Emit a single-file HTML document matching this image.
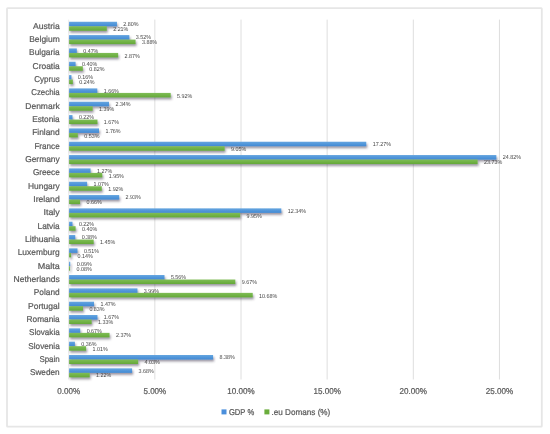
<!DOCTYPE html>
<html lang="en"><head><meta charset="utf-8"><title>GDP % vs .eu Domains (%)</title>
<style>html,body{margin:0;padding:0;background:#fff}body{width:550px;height:434px;overflow:hidden}svg{display:block}text{font-family:"Liberation Sans",sans-serif;text-rendering:geometricPrecision;stroke-width:.22px;paint-order:stroke}.t{stroke:#595959}.d{stroke:none}</style>
</head><body>
<svg width="550" height="434" viewBox="0 0 550 434">
<defs>
<linearGradient id="gb" x1="0" y1="0" x2="0" y2="1"><stop offset="0" stop-color="#64a5e0"/><stop offset="1" stop-color="#4189d4"/></linearGradient>
<linearGradient id="gg" x1="0" y1="0" x2="0" y2="1"><stop offset="0" stop-color="#7fbd57"/><stop offset="1" stop-color="#64a838"/></linearGradient>
<filter id="sh" filterUnits="userSpaceOnUse" x="60" y="10" width="480" height="380"><feGaussianBlur in="SourceAlpha" stdDeviation="1.25"/><feOffset dx="0.5" dy="1.5" result="b"/><feFlood flood-color="#3a3048" flood-opacity="0.5"/><feComposite in2="b" operator="in"/><feMerge><feMergeNode/><feMergeNode in="SourceGraphic"/></feMerge></filter>
</defs>
<rect width="550" height="434" fill="#fff"/>
<rect x="7" y="8.05" width="534.8" height="418.55" rx="0.6" fill="#fff" stroke="#e6e6e6" stroke-width="1.8"/>
<line x1="68.70" y1="19.6" x2="68.70" y2="379.5" stroke="#ebebeb" stroke-width="1"/>
<line x1="154.85" y1="19.6" x2="154.85" y2="379.5" stroke="#dedede" stroke-width="1"/>
<line x1="241.00" y1="19.6" x2="241.00" y2="379.5" stroke="#dedede" stroke-width="1"/>
<line x1="327.15" y1="19.6" x2="327.15" y2="379.5" stroke="#dedede" stroke-width="1"/>
<line x1="413.30" y1="19.6" x2="413.30" y2="379.5" stroke="#dedede" stroke-width="1"/>
<line x1="499.45" y1="19.6" x2="499.45" y2="379.5" stroke="#dedede" stroke-width="1"/>
<g>
<rect x="69.10" y="21.76" width="47.84" height="4.5" fill="url(#gb)" filter="url(#sh)"/>
<rect x="69.10" y="26.26" width="37.68" height="4.5" fill="url(#gg)" filter="url(#sh)"/>
<rect x="69.10" y="35.09" width="60.25" height="4.5" fill="url(#gb)" filter="url(#sh)"/>
<rect x="69.10" y="39.59" width="66.45" height="4.5" fill="url(#gg)" filter="url(#sh)"/>
<rect x="69.10" y="48.42" width="7.70" height="4.5" fill="url(#gb)" filter="url(#sh)"/>
<rect x="69.10" y="52.92" width="49.05" height="4.5" fill="url(#gg)" filter="url(#sh)"/>
<rect x="69.10" y="61.75" width="6.49" height="4.5" fill="url(#gb)" filter="url(#sh)"/>
<rect x="69.10" y="66.25" width="13.73" height="4.5" fill="url(#gg)" filter="url(#sh)"/>
<rect x="69.10" y="75.08" width="2.36" height="4.5" fill="url(#gb)" filter="url(#sh)"/>
<rect x="69.10" y="79.58" width="3.74" height="4.5" fill="url(#gg)" filter="url(#sh)"/>
<rect x="69.10" y="88.41" width="28.20" height="4.5" fill="url(#gb)" filter="url(#sh)"/>
<rect x="69.10" y="92.91" width="101.60" height="4.5" fill="url(#gg)" filter="url(#sh)"/>
<rect x="69.10" y="101.74" width="39.92" height="4.5" fill="url(#gb)" filter="url(#sh)"/>
<rect x="69.10" y="106.24" width="23.55" height="4.5" fill="url(#gg)" filter="url(#sh)"/>
<rect x="69.10" y="115.07" width="3.39" height="4.5" fill="url(#gb)" filter="url(#sh)"/>
<rect x="69.10" y="119.57" width="28.37" height="4.5" fill="url(#gg)" filter="url(#sh)"/>
<rect x="69.10" y="128.40" width="29.92" height="4.5" fill="url(#gb)" filter="url(#sh)"/>
<rect x="69.10" y="132.90" width="8.73" height="4.5" fill="url(#gg)" filter="url(#sh)"/>
<rect x="69.10" y="141.73" width="297.16" height="4.5" fill="url(#gb)" filter="url(#sh)"/>
<rect x="69.10" y="146.23" width="155.53" height="4.5" fill="url(#gg)" filter="url(#sh)"/>
<rect x="69.10" y="155.06" width="427.25" height="4.5" fill="url(#gb)" filter="url(#sh)"/>
<rect x="69.10" y="159.56" width="408.47" height="4.5" fill="url(#gg)" filter="url(#sh)"/>
<rect x="69.10" y="168.39" width="21.48" height="4.5" fill="url(#gb)" filter="url(#sh)"/>
<rect x="69.10" y="172.89" width="33.20" height="4.5" fill="url(#gg)" filter="url(#sh)"/>
<rect x="69.10" y="181.72" width="18.04" height="4.5" fill="url(#gb)" filter="url(#sh)"/>
<rect x="69.10" y="186.22" width="32.68" height="4.5" fill="url(#gg)" filter="url(#sh)"/>
<rect x="69.10" y="195.05" width="50.08" height="4.5" fill="url(#gb)" filter="url(#sh)"/>
<rect x="69.10" y="199.55" width="10.97" height="4.5" fill="url(#gg)" filter="url(#sh)"/>
<rect x="69.10" y="208.38" width="212.22" height="4.5" fill="url(#gb)" filter="url(#sh)"/>
<rect x="69.10" y="212.88" width="171.04" height="4.5" fill="url(#gg)" filter="url(#sh)"/>
<rect x="69.10" y="221.71" width="3.39" height="4.5" fill="url(#gb)" filter="url(#sh)"/>
<rect x="69.10" y="226.21" width="6.49" height="4.5" fill="url(#gg)" filter="url(#sh)"/>
<rect x="69.10" y="235.04" width="6.15" height="4.5" fill="url(#gb)" filter="url(#sh)"/>
<rect x="69.10" y="239.54" width="24.58" height="4.5" fill="url(#gg)" filter="url(#sh)"/>
<rect x="69.10" y="248.37" width="8.39" height="4.5" fill="url(#gb)" filter="url(#sh)"/>
<rect x="69.10" y="252.87" width="2.01" height="4.5" fill="url(#gg)" filter="url(#sh)"/>
<rect x="69.10" y="261.70" width="1.15" height="4.5" fill="url(#gb)" filter="url(#sh)"/>
<rect x="69.10" y="266.20" width="0.98" height="4.5" fill="url(#gg)" filter="url(#sh)"/>
<rect x="69.10" y="275.03" width="95.40" height="4.5" fill="url(#gb)" filter="url(#sh)"/>
<rect x="69.10" y="279.53" width="166.21" height="4.5" fill="url(#gg)" filter="url(#sh)"/>
<rect x="69.10" y="288.36" width="68.35" height="4.5" fill="url(#gb)" filter="url(#sh)"/>
<rect x="69.10" y="292.86" width="183.62" height="4.5" fill="url(#gg)" filter="url(#sh)"/>
<rect x="69.10" y="301.69" width="24.93" height="4.5" fill="url(#gb)" filter="url(#sh)"/>
<rect x="69.10" y="306.19" width="13.90" height="4.5" fill="url(#gg)" filter="url(#sh)"/>
<rect x="69.10" y="315.02" width="28.37" height="4.5" fill="url(#gb)" filter="url(#sh)"/>
<rect x="69.10" y="319.52" width="22.52" height="4.5" fill="url(#gg)" filter="url(#sh)"/>
<rect x="69.10" y="328.35" width="11.14" height="4.5" fill="url(#gb)" filter="url(#sh)"/>
<rect x="69.10" y="332.85" width="40.44" height="4.5" fill="url(#gg)" filter="url(#sh)"/>
<rect x="69.10" y="341.68" width="5.80" height="4.5" fill="url(#gb)" filter="url(#sh)"/>
<rect x="69.10" y="346.18" width="17.00" height="4.5" fill="url(#gg)" filter="url(#sh)"/>
<rect x="69.10" y="355.01" width="143.99" height="4.5" fill="url(#gb)" filter="url(#sh)"/>
<rect x="69.10" y="359.51" width="69.04" height="4.5" fill="url(#gg)" filter="url(#sh)"/>
<rect x="69.10" y="368.34" width="63.01" height="4.5" fill="url(#gb)" filter="url(#sh)"/>
<rect x="69.10" y="372.84" width="20.62" height="4.5" fill="url(#gg)" filter="url(#sh)"/>
</g>
<g class="t" font-size="8.5" fill="#595959" text-anchor="end">
<text x="59.7" y="29" textLength="26.7" lengthAdjust="spacingAndGlyphs">Austria</text>
<text x="59.7" y="42" textLength="30.5" lengthAdjust="spacingAndGlyphs">Belgium</text>
<text x="59.7" y="55" textLength="30.6" lengthAdjust="spacingAndGlyphs">Bulgaria</text>
<text x="59.7" y="69" textLength="27.1" lengthAdjust="spacingAndGlyphs">Croatia</text>
<text x="59.7" y="82" textLength="25.4" lengthAdjust="spacingAndGlyphs">Cyprus</text>
<text x="59.7" y="95" textLength="28.5" lengthAdjust="spacingAndGlyphs">Czechia</text>
<text x="59.7" y="109" textLength="34.4" lengthAdjust="spacingAndGlyphs">Denmark</text>
<text x="59.7" y="122" textLength="27.5" lengthAdjust="spacingAndGlyphs">Estonia</text>
<text x="59.7" y="135" textLength="27.5" lengthAdjust="spacingAndGlyphs">Finland</text>
<text x="59.7" y="149" textLength="25.3" lengthAdjust="spacingAndGlyphs">France</text>
<text x="59.7" y="162" textLength="34.5" lengthAdjust="spacingAndGlyphs">Germany</text>
<text x="59.7" y="175" textLength="26.8" lengthAdjust="spacingAndGlyphs">Greece</text>
<text x="59.7" y="189" textLength="31.7" lengthAdjust="spacingAndGlyphs">Hungary</text>
<text x="59.7" y="202" textLength="26.4" lengthAdjust="spacingAndGlyphs">Ireland</text>
<text x="59.7" y="215" textLength="16.2" lengthAdjust="spacingAndGlyphs">Italy</text>
<text x="59.7" y="229" textLength="22.1" lengthAdjust="spacingAndGlyphs">Latvia</text>
<text x="59.7" y="242" textLength="34.7" lengthAdjust="spacingAndGlyphs">Lithuania</text>
<text x="59.7" y="255" textLength="42.0" lengthAdjust="spacingAndGlyphs">Luxemburg</text>
<text x="59.7" y="269" textLength="22.0" lengthAdjust="spacingAndGlyphs">Malta</text>
<text x="59.7" y="282" textLength="46.2" lengthAdjust="spacingAndGlyphs">Netherlands</text>
<text x="59.7" y="295" textLength="25.9" lengthAdjust="spacingAndGlyphs">Poland</text>
<text x="59.7" y="309" textLength="31.7" lengthAdjust="spacingAndGlyphs">Portugal</text>
<text x="59.7" y="322" textLength="33.1" lengthAdjust="spacingAndGlyphs">Romania</text>
<text x="59.7" y="335" textLength="30.6" lengthAdjust="spacingAndGlyphs">Slovakia</text>
<text x="59.7" y="349" textLength="31.4" lengthAdjust="spacingAndGlyphs">Slovenia</text>
<text x="59.7" y="362" textLength="20.3" lengthAdjust="spacingAndGlyphs">Spain</text>
<text x="59.7" y="375" textLength="29.8" lengthAdjust="spacingAndGlyphs">Sweden</text>
</g>
<g class="d" font-size="5.9" fill="#424242">
<text x="123.34" y="26" textLength="15.2" lengthAdjust="spacingAndGlyphs">2.80%</text>
<text x="113.18" y="31" textLength="15.2" lengthAdjust="spacingAndGlyphs">2.21%</text>
<text x="135.75" y="39" textLength="15.2" lengthAdjust="spacingAndGlyphs">3.52%</text>
<text x="141.95" y="44" textLength="15.2" lengthAdjust="spacingAndGlyphs">3.88%</text>
<text x="83.20" y="53" textLength="15.2" lengthAdjust="spacingAndGlyphs">0.47%</text>
<text x="124.55" y="58" textLength="15.2" lengthAdjust="spacingAndGlyphs">2.87%</text>
<text x="81.99" y="66" textLength="15.2" lengthAdjust="spacingAndGlyphs">0.40%</text>
<text x="89.23" y="71" textLength="15.2" lengthAdjust="spacingAndGlyphs">0.82%</text>
<text x="77.86" y="79" textLength="15.2" lengthAdjust="spacingAndGlyphs">0.16%</text>
<text x="79.24" y="84" textLength="15.2" lengthAdjust="spacingAndGlyphs">0.24%</text>
<text x="103.70" y="93" textLength="15.2" lengthAdjust="spacingAndGlyphs">1.66%</text>
<text x="177.10" y="98" textLength="15.2" lengthAdjust="spacingAndGlyphs">5.92%</text>
<text x="115.42" y="106" textLength="15.2" lengthAdjust="spacingAndGlyphs">2.34%</text>
<text x="99.05" y="111" textLength="15.2" lengthAdjust="spacingAndGlyphs">1.39%</text>
<text x="78.89" y="119" textLength="15.2" lengthAdjust="spacingAndGlyphs">0.22%</text>
<text x="103.87" y="124" textLength="15.2" lengthAdjust="spacingAndGlyphs">1.67%</text>
<text x="105.42" y="133" textLength="15.2" lengthAdjust="spacingAndGlyphs">1.76%</text>
<text x="84.23" y="138" textLength="15.2" lengthAdjust="spacingAndGlyphs">0.53%</text>
<text x="372.66" y="146" textLength="18.3" lengthAdjust="spacingAndGlyphs">17.27%</text>
<text x="231.03" y="151" textLength="15.2" lengthAdjust="spacingAndGlyphs">9.05%</text>
<text x="502.75" y="159" textLength="18.3" lengthAdjust="spacingAndGlyphs">24.82%</text>
<text x="483.97" y="164" textLength="18.3" lengthAdjust="spacingAndGlyphs">23.73%</text>
<text x="96.98" y="173" textLength="15.2" lengthAdjust="spacingAndGlyphs">1.27%</text>
<text x="108.70" y="178" textLength="15.2" lengthAdjust="spacingAndGlyphs">1.95%</text>
<text x="93.54" y="186" textLength="15.2" lengthAdjust="spacingAndGlyphs">1.07%</text>
<text x="108.18" y="191" textLength="15.2" lengthAdjust="spacingAndGlyphs">1.92%</text>
<text x="125.58" y="199" textLength="15.2" lengthAdjust="spacingAndGlyphs">2.93%</text>
<text x="86.47" y="204" textLength="15.2" lengthAdjust="spacingAndGlyphs">0.66%</text>
<text x="287.72" y="213" textLength="18.3" lengthAdjust="spacingAndGlyphs">12.34%</text>
<text x="246.54" y="218" textLength="15.2" lengthAdjust="spacingAndGlyphs">9.95%</text>
<text x="78.89" y="226" textLength="15.2" lengthAdjust="spacingAndGlyphs">0.22%</text>
<text x="81.99" y="231" textLength="15.2" lengthAdjust="spacingAndGlyphs">0.40%</text>
<text x="81.65" y="239" textLength="15.2" lengthAdjust="spacingAndGlyphs">0.38%</text>
<text x="100.08" y="244" textLength="15.2" lengthAdjust="spacingAndGlyphs">1.45%</text>
<text x="83.89" y="253" textLength="15.2" lengthAdjust="spacingAndGlyphs">0.51%</text>
<text x="77.51" y="258" textLength="15.2" lengthAdjust="spacingAndGlyphs">0.14%</text>
<text x="76.65" y="266" textLength="15.2" lengthAdjust="spacingAndGlyphs">0.09%</text>
<text x="76.48" y="271" textLength="15.2" lengthAdjust="spacingAndGlyphs">0.08%</text>
<text x="170.90" y="279" textLength="15.2" lengthAdjust="spacingAndGlyphs">5.56%</text>
<text x="241.71" y="284" textLength="15.2" lengthAdjust="spacingAndGlyphs">9.67%</text>
<text x="143.85" y="293" textLength="15.2" lengthAdjust="spacingAndGlyphs">3.99%</text>
<text x="259.12" y="298" textLength="18.3" lengthAdjust="spacingAndGlyphs">10.68%</text>
<text x="100.43" y="306" textLength="15.2" lengthAdjust="spacingAndGlyphs">1.47%</text>
<text x="89.40" y="311" textLength="15.2" lengthAdjust="spacingAndGlyphs">0.83%</text>
<text x="103.87" y="319" textLength="15.2" lengthAdjust="spacingAndGlyphs">1.67%</text>
<text x="98.02" y="324" textLength="15.2" lengthAdjust="spacingAndGlyphs">1.33%</text>
<text x="86.64" y="333" textLength="15.2" lengthAdjust="spacingAndGlyphs">0.67%</text>
<text x="115.94" y="337" textLength="15.2" lengthAdjust="spacingAndGlyphs">2.37%</text>
<text x="81.30" y="346" textLength="15.2" lengthAdjust="spacingAndGlyphs">0.36%</text>
<text x="92.50" y="351" textLength="15.2" lengthAdjust="spacingAndGlyphs">1.01%</text>
<text x="219.49" y="359" textLength="15.2" lengthAdjust="spacingAndGlyphs">8.38%</text>
<text x="144.54" y="364" textLength="15.2" lengthAdjust="spacingAndGlyphs">4.03%</text>
<text x="138.51" y="373" textLength="15.2" lengthAdjust="spacingAndGlyphs">3.68%</text>
<text x="96.12" y="377" textLength="15.2" lengthAdjust="spacingAndGlyphs">1.22%</text>
</g>
<g class="t" font-size="8.5" fill="#595959" text-anchor="middle">
<text x="68.70" y="394.3" textLength="22.8" lengthAdjust="spacingAndGlyphs">0.00%</text>
<text x="154.85" y="394.3" textLength="22.8" lengthAdjust="spacingAndGlyphs">5.00%</text>
<text x="241.00" y="394.3" textLength="27.4" lengthAdjust="spacingAndGlyphs">10.00%</text>
<text x="327.15" y="394.3" textLength="27.4" lengthAdjust="spacingAndGlyphs">15.00%</text>
<text x="413.30" y="394.3" textLength="27.4" lengthAdjust="spacingAndGlyphs">20.00%</text>
<text x="499.45" y="394.3" textLength="27.4" lengthAdjust="spacingAndGlyphs">25.00%</text>
</g>
<rect x="221.5" y="409.4" width="5" height="5" fill="#4a8fdc"/>
<rect x="264.4" y="409.4" width="5" height="5" fill="#6aad3c"/>
<g class="t" font-size="8.5" fill="#595959">
<text x="228.9" y="415.1" textLength="25.3" lengthAdjust="spacingAndGlyphs">GDP %</text>
<text x="271.5" y="415.1" textLength="58.8" lengthAdjust="spacingAndGlyphs">.eu Domans (%)</text>
</g>
</svg></body></html>
